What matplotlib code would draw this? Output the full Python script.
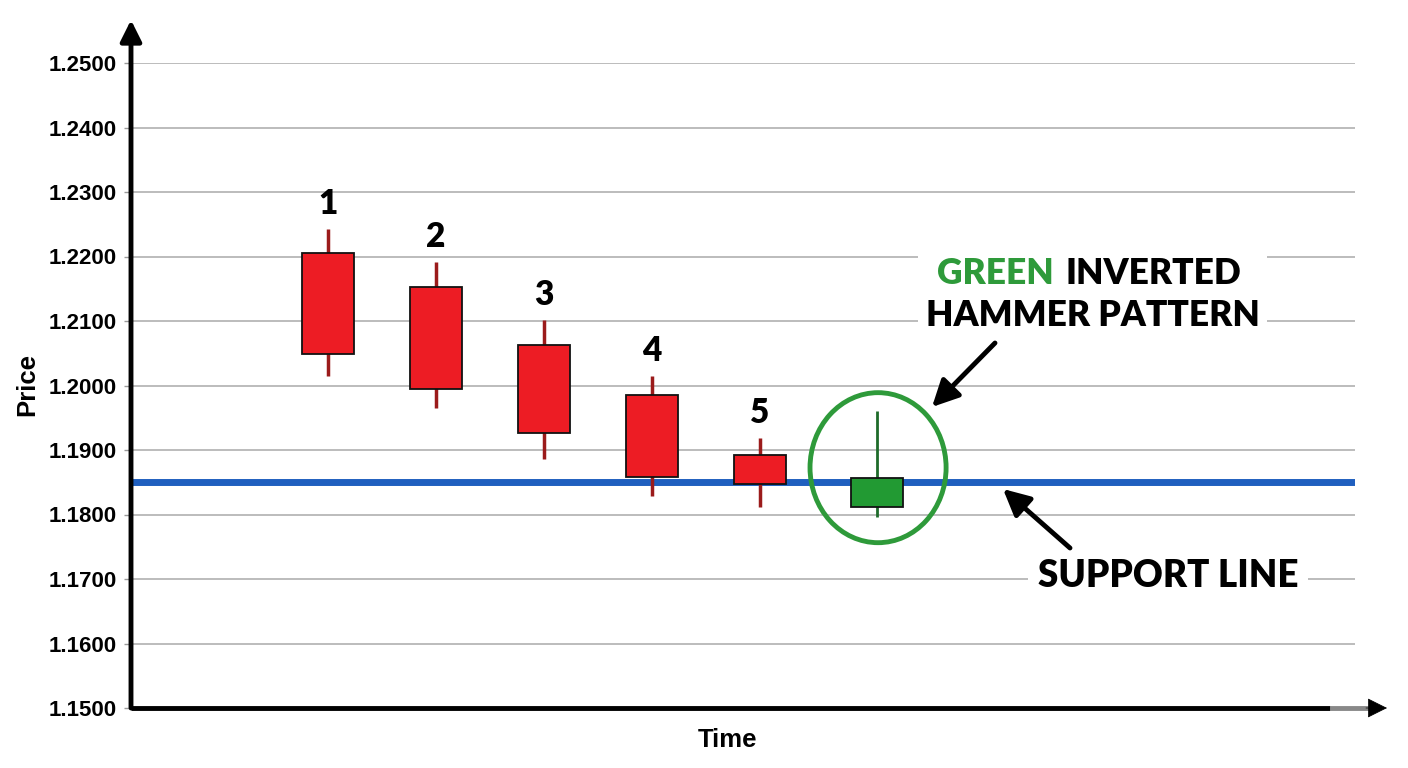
import matplotlib
matplotlib.use("Agg")
import matplotlib.pyplot as plt
from matplotlib.patches import Rectangle, Ellipse

# ---- data ----
candle_labels = ["1", "2", "3", "4", "5", ""]
x_pos = [1, 2, 3, 4, 5, 6.08]
opens = [1.2206, 1.2153, 1.2063, 1.1985, 1.1892, 1.1811]
closes = [1.2049, 1.1995, 1.1926, 1.1858, 1.1847, 1.1857]
highs = [1.2242, 1.2191, 1.2102, 1.2015, 1.1919, 1.1961]
lows = [1.2015, 1.1965, 1.1886, 1.1829, 1.1812, 1.1796]
support_level = 1.1851
y_ticks = [1.15, 1.16, 1.17, 1.18, 1.19, 1.20, 1.21, 1.22, 1.23, 1.24, 1.25]
y_tick_labels = [f"{v:.4f}" for v in y_ticks]

RED = "#ed1c24"
RED_WICK = "#9b1b1b"
GREEN = "#229a33"
GREEN_WICK = "#1e6b2a"
CIRCLE = "#2e9a3a"
BLUE = "#1f5fbf"
FONT = "Lato"
WEIGHT = "heavy"

W, H = 1408, 768
fig = plt.figure(figsize=(W / 100, H / 100), dpi=100)
fig.patch.set_facecolor("white")
ax = fig.add_axes([131 / W, (H - 708) / H, 1224 / W, 645 / H])
ax.set_xlim(-0.824, 10.509)
ax.set_ylim(1.15, 1.25)
for s in ax.spines.values():
    s.set_visible(False)

def af(px, py):
    return ((px - 131) / 1224, (708 - py) / 645)

# grid
ax.set_yticks(y_ticks)
ax.set_yticklabels(y_tick_labels, fontfamily="Liberation Sans", fontweight="bold", fontsize=16)
ax.tick_params(axis="y", length=5, width=1, color="#999999", pad=5)
ax.set_xticks([])
for v in y_ticks[1:]:
    ax.axhline(v, color="#b0b0b0", lw=1.2, zorder=0)

# support line
ax.axhline(support_level, color=BLUE, lw=5, zorder=1)

# candles
bw = 0.48
for i, x in enumerate(x_pos):
    o, c, h, l = opens[i], closes[i], highs[i], lows[i]
    up = c > o
    body_c = GREEN if up else RED
    wick_c = GREEN_WICK if up else RED_WICK
    ax.plot([x, x], [l, h], color=wick_c, lw=2.5 if not up else 2, zorder=2, solid_capstyle="butt")
    ax.add_patch(Rectangle((x - bw / 2, min(o, c)), bw, abs(c - o), facecolor=body_c,
                           edgecolor="#111111", lw=1.3, zorder=3))
    if candle_labels[i]:
        ax.annotate(candle_labels[i], (x, h), xytext=(0, 18), textcoords="offset points",
                    ha="center", va="center", fontsize=24, fontweight=WEIGHT,
                    fontfamily=FONT, zorder=4)

# circle around green candle
ax.add_patch(Ellipse((6.093, 1.18726), 1.26, 0.02326, fill=False, edgecolor=CIRCLE, lw=3.5, zorder=4))

# axes arrows
ax.annotate("", xy=(0, af(131, 20)[1]), xytext=(0, 0), xycoords="axes fraction",
            arrowprops=dict(arrowstyle="-|>", lw=3.5, color="black", mutation_scale=32,
                            shrinkA=0, shrinkB=0), annotation_clip=False, zorder=6)
ax.plot([0, af(1330, 708)[0]], [0, 0], transform=ax.transAxes, color="black", lw=3.5,
        clip_on=False, zorder=6, solid_capstyle="butt")
ax.plot([af(1330, 708)[0], af(1372, 708)[0]], [0, 0], transform=ax.transAxes, color="#888888",
        lw=3.5, clip_on=False, zorder=6, solid_capstyle="butt")
ax.annotate("", xy=af(1387, 708), xytext=af(1366, 708), xycoords="axes fraction",
            arrowprops=dict(arrowstyle="-|>", lw=0.5, color="black", mutation_scale=32,
                            shrinkA=0, shrinkB=0), annotation_clip=False, zorder=7)

# axis titles
ax.text(*af(27, 385), "Price", transform=ax.transAxes, rotation=90, ha="center", va="center",
        fontsize=18.5, fontweight="bold", fontfamily="Liberation Sans")
ax.text(*af(728, 740), "Time", transform=ax.transAxes, ha="center", va="center",
        fontsize=18.5, fontweight="bold", fontfamily="Liberation Sans")

# hammer annotation
x0, y0 = af(918, 335)
x1, y1 = af(1267, 250)
ax.add_patch(Rectangle((x0, y0), x1 - x0, y1 - y0, transform=ax.transAxes, facecolor="white",
                       edgecolor="none", zorder=5, clip_on=False))
ax.text(*af(1054, 273), "GREEN", transform=ax.transAxes, ha="right", va="center",
        fontsize=25.5, fontweight=WEIGHT, fontfamily=FONT, color=CIRCLE, zorder=6)
ax.text(*af(1066, 273), "INVERTED", transform=ax.transAxes, ha="left", va="center",
        fontsize=25.5, fontweight=WEIGHT, fontfamily=FONT, color="black", zorder=6)
ax.text(*af(1093, 316), "HAMMER PATTERN", transform=ax.transAxes, ha="center", va="center",
        fontsize=25.5, fontweight=WEIGHT, fontfamily=FONT, color="black", zorder=6)
ax.annotate("", xy=af(932, 407), xytext=af(995, 343), xycoords="axes fraction",
            arrowprops=dict(arrowstyle="-|>", lw=3.5, color="black", mutation_scale=40,
                            shrinkA=0, shrinkB=0), annotation_clip=False, zorder=6)

# support annotation
ax.text(*af(1168, 576), "SUPPORT LINE", transform=ax.transAxes, ha="center", va="center",
        fontsize=26.5, fontweight=WEIGHT, fontfamily=FONT, color="black", zorder=6,
        bbox=dict(facecolor="white", edgecolor="none", pad=7))
ax.annotate("", xy=af(1003, 489), xytext=af(1070, 548), xycoords="axes fraction",
            arrowprops=dict(arrowstyle="-|>", lw=3.5, color="black", mutation_scale=40,
                            shrinkA=0, shrinkB=0), annotation_clip=False, zorder=6)

fig.savefig("out.png", dpi=100, facecolor="white")
